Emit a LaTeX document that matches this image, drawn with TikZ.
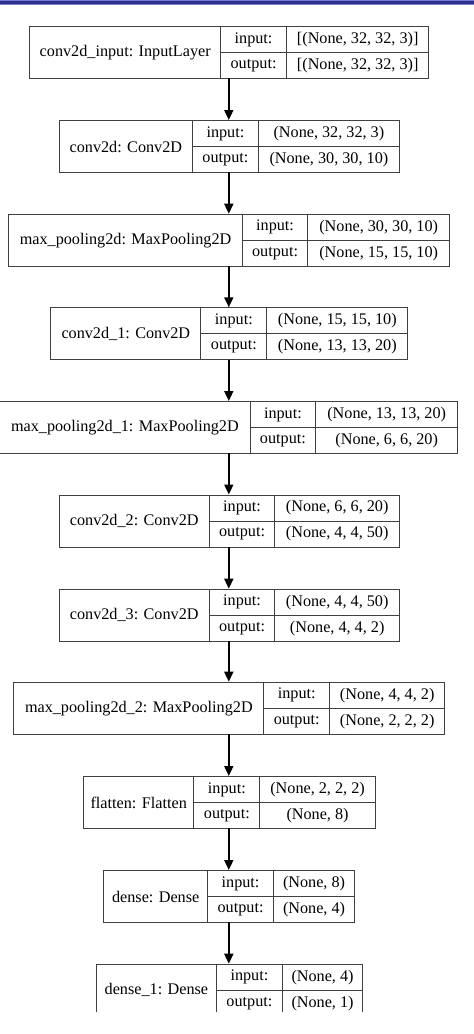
\documentclass[tikz,border=0pt]{standalone}
\usepackage{fontspec}
\setmainfont{Liberation Serif}
\usetikzlibrary{arrows.meta}
\definecolor{barlight}{HTML}{7B7BCF}
\definecolor{bardark}{HTML}{2E2E8C}
\definecolor{edge}{HTML}{404040}
\tikzset{
  cell/.style={draw=edge, line width=1.1pt, inner sep=0pt, font=\fontsize{16.2}{19}\selectfont, text=black},
  frame/.style={inner sep=0pt, minimum height=52pt},
  arr/.style={line width=1.8pt, -{Triangle[width=9pt,length=10pt]}},
}
% #1 id, #2 x0, #3 d1, #4 d2, #5 x1, #6 y0, #7 label, #8 in, #9 out
\newcommand\layerbox[9]{%
  \node[frame, minimum width={#5-(#2)}, anchor=north west] (#1) at (#2,#6) {};
  \node[cell, minimum width={#3-(#2)}, minimum height=52pt, anchor=north west] (#1n) at (#2,#6) {#7};
  \node[cell, minimum width={#4-#3}, minimum height=26pt, anchor=north west] (#1il) at (#3,#6) {input:};
  \node[cell, minimum width={#4-#3}, minimum height=26pt, anchor=north west] (#1ol) at (#3,{#6+26}) {output:};
  \node[cell, minimum width={#5-#4}, minimum height=26pt, anchor=north west] (#1iv) at (#4,#6) {#8};
  \node[cell, minimum width={#5-#4}, minimum height=26pt, anchor=north west] (#1ov) at (#4,{#6+26}) {#9};
}
\begin{document}
\begin{tikzpicture}[x=1pt,y=-1pt]
\useasboundingbox (0,0) rectangle (474,1034);
\fill[barlight] (0,0) rectangle (474,4.7);
\fill[bardark] (0,1.3) rectangle (474,4);
\coordinate (ax) at (228.8,0);
\begin{scope}
\clip (-10,-10) rectangle (484,1011.5);
\layerbox{a}{29.3}{220}{286}{428.3}{26}{conv2d\_input: InputLayer}{[(None, 32, 32, 3)]}{[(None, 32, 32, 3)]}
\layerbox{b}{58.7}{192}{257.7}{399}{120}{conv2d: Conv2D}{(None, 32, 32, 3)}{(None, 30, 30, 10)}
\layerbox{c}{8.3}{241.7}{307.3}{449}{213.7}{max\_pooling2d: MaxPooling2D}{(None, 30, 30, 10)}{(None, 15, 15, 10)}
\layerbox{d}{50.3}{200.3}{266.3}{407.3}{307.3}{conv2d\_1: Conv2D}{(None, 15, 15, 10)}{(None, 13, 13, 20)}
\layerbox{e}{-1}{249.7}{315}{457.3}{401}{max\_pooling2d\_1: MaxPooling2D}{(None, 13, 13, 20)}{(None, 6, 6, 20)}
\layerbox{f}{58.7}{208.7}{274.3}{399}{494.5}{conv2d\_2: Conv2D}{(None, 6, 6, 20)}{(None, 4, 4, 50)}
\layerbox{g}{58.7}{208.7}{274.3}{399}{588.7}{conv2d\_3: Conv2D}{(None, 4, 4, 50)}{(None, 4, 4, 2)}
\layerbox{h}{13.3}{263.3}{329}{444.3}{681.7}{max\_pooling2d\_2: MaxPooling2D}{(None, 4, 4, 2)}{(None, 2, 2, 2)}
\layerbox{i}{83}{193.3}{259.3}{374.7}{776}{flatten: Flatten}{(None, 2, 2, 2)}{(None, 8)}
\layerbox{j}{103}{207.3}{272.7}{354.3}{870}{dense: Dense}{(None, 8)}{(None, 4)}
\layerbox{k}{95.7}{216}{281.7}{362.3}{963.7}{dense\_1: Dense}{(None, 4)}{(None, 1)}
\end{scope}
\foreach \p/\q in {a/b,b/c,c/d,d/e,e/f,f/g,g/h,h/i,i/j,j/k}
  \draw[arr] (\p.south -| ax) -- (\q.north -| ax);
\end{tikzpicture}
\end{document}
